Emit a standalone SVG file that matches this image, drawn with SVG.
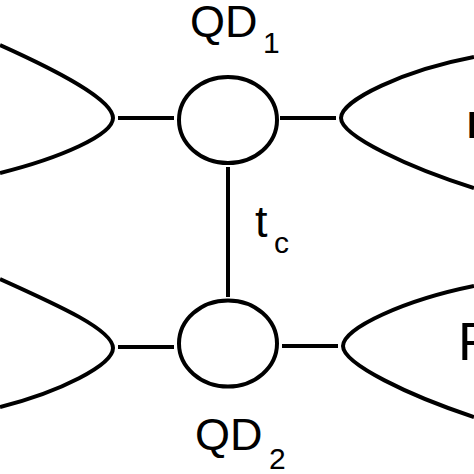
<svg xmlns="http://www.w3.org/2000/svg" width="474" height="474" viewBox="0 0 474 474">
<style>
.s{fill:none;stroke:#000;stroke-width:4}
.t{font-family:"Liberation Sans",Arial,sans-serif;fill:#000}
.m{font-size:45px}
.b{font-size:30px}
</style>
<rect width="474" height="474" fill="#fff"/>
<g id="leadL1"><path class="s" d="M0,45 C60,72 113,100 113,118 C113,135 60,158 0,173"/></g>
<g id="leadR1"><path class="s" d="M474,57 C405,70 341,100 341,118 C341,136 410,168 474,188"/><text class="t" x="467" y="138" font-size="37" font-weight="bold">L</text></g>
<g id="leadL2"><path class="s" d="M0,279 C60,306 113,330 113,348 C113,365 60,392 0,407"/></g>
<g id="leadR2"><path class="s" d="M474,286 C405,300 343,328 343,346 C343,364 410,396 474,417"/><text class="t" x="458" y="360" font-size="53">R</text></g>
<g id="QD1"><ellipse class="s" cx="228" cy="120" rx="49" ry="43"/><text class="t m" x="190" y="37">QD</text><text class="t b" x="263" y="53">1</text></g>
<g id="QD2"><ellipse class="s" cx="228" cy="343.5" rx="49" ry="43"/><text class="t m" x="195" y="450">QD</text><text class="t b" x="269" y="469">2</text></g>
<g id="connectors">
<line class="s" x1="118" y1="118" x2="174" y2="118"/>
<line class="s" x1="280" y1="118" x2="336" y2="118"/>
<line class="s" x1="118" y1="347" x2="174" y2="347"/>
<line class="s" x1="282" y1="346" x2="338" y2="346"/>
<line class="s" x1="228" y1="167" x2="228" y2="297"/>
<text class="t m" x="255" y="237">t</text><text class="t b" x="274" y="253">c</text>
</g>
</svg>
